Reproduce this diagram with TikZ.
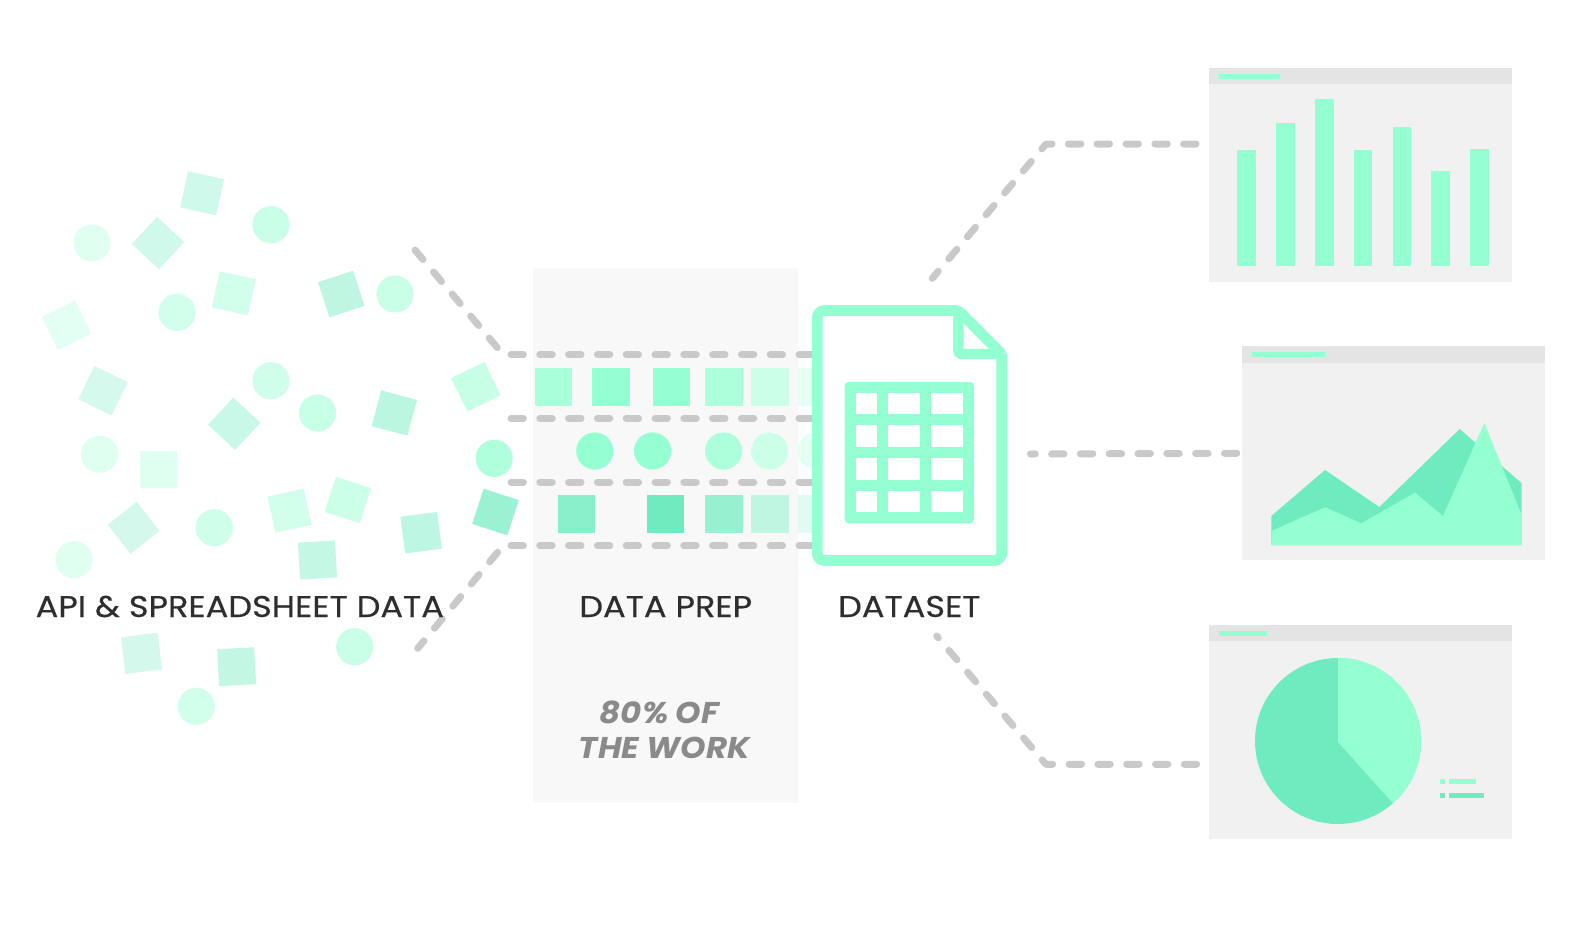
\documentclass[tikz,border=0pt]{standalone}
\usepackage{fontspec}
\setmainfont{Poppins}
\newfontfamily\labelfont[FakeStretch=1.12,FakeBold=0.35]{Poppins}
\newfontfamily\notefont[FakeStretch=1.08]{Poppins}
\usepackage{xcolor}
\usepackage{tikz}

\definecolor{mintl}{HTML}{94FFD0}
\definecolor{mintd}{HTML}{6FECBF}
\definecolor{dashgrey}{HTML}{C9C9C9}
\definecolor{prepgrey}{HTML}{F8F8F8}
\definecolor{panelgrey}{HTML}{F1F1F1}
\definecolor{headgrey}{HTML}{E4E4E4}
\definecolor{inkgrey}{HTML}{2E2E2E}
\definecolor{notegrey}{HTML}{8A8A8A}

\begin{document}
\begin{tikzpicture}[
  x=1pt,y=-1pt,
  chip/.style={rectangle,minimum size=37pt,inner sep=0pt},
  dot/.style={circle,minimum size=37.2pt,inner sep=0pt},
  tile/.style={rectangle,anchor=north west,minimum width=37.3pt,minimum height=37.3pt,inner sep=0pt},
  panel/.style={rectangle,fill=panelgrey,anchor=north west,minimum width=303.5pt,minimum height=213.6pt,inner sep=0pt},
  dashline/.style={draw=dashgrey,line width=7pt,line cap=round,line join=round,dash pattern=on 12.4pt off 16.4pt},
  label/.style={anchor=base,text=inkgrey,font=\fontsize{30}{30}\labelfont},
  note/.style={anchor=base,text=notegrey,font=\fontsize{30}{30}\notefont\bfseries\itshape}
]
\useasboundingbox (0,0) rectangle (1576,930);

\foreach \x/\y/\r/\c [count=\i] in {
  202.1/193.3/-12.5/mintd!33, 158/243/-43/mintd!32, 233.8/293.3/-12.5/mintl!42,
  341.3/294/18/mintd!45, 66.5/325.3/26/mintl!26, 103/390.7/-26/mintd!29,
  234.2/423.7/-43/mintd!38, 394.3/413/-15/mintd!48, 475.9/386.7/26/mintl!53,
  158.2/469.3/0/mintl!30, 495.5/512/-18/mintd!70, 289.6/510.7/12.5/mintl!42,
  347.8/500/-18/mintl!48, 421.1/532.7/7.5/mintd!46, 133.6/527.8/38/mintd!30,
  317.5/560/3.5/mintd!40, 141.5/653.3/7/mintd!30, 236.6/666.7/3/mintd!42}
  \node[chip,rotate=\r,fill=\c] (chip\i) at (\x,\y) {};

\foreach \x/\y/\c [count=\i] in {
  91.9/243/mintl!30, 271/224.7/mintl!50, 177/312.3/mintl!42, 395/294/mintl!50,
  271/380.7/mintl!45, 317.5/413/mintl!52, 99.5/454.3/mintl!30, 494.1/458.3/mintl!75,
  214.2/527.7/mintl!45, 74/559.7/mintl!30, 354.7/646.7/mintl!50, 196.3/706.3/mintl!42}
  \node[dot,fill=\c] (dot\i) at (\x,\y) {};

\node[rectangle,fill=prepgrey,anchor=north west,minimum width=265pt,minimum height=534.3pt,inner sep=0pt] (prep) at (532.7,268) {};

\foreach \x/\c [count=\i] in {
  534.3/mintl!80, 592/mintl, 652.4/mintl, 705/mintl!78, 751.2/mintl!48, 797.6/mintl!24}
  \node[tile,fill=\c] (toptile\i) at (\x,368) {};
\foreach \x/\c [count=\i] in {
  594.8/mintl, 652.6/mintl, 723.6/mintl!78, 769.6/mintl!48, 816/mintl!24}
  \node[dot,fill=\c] (middot\i) at (\x,451) {};
\foreach \x/\c [count=\i] in {
  557.3/mintd!82, 646.6/mintd, 705/mintd!72, 751.2/mintd!45, 797.6/mintd!20}
  \node[tile,fill=\c] (lowtile\i) at (\x,495) {};

\foreach \y [count=\i] in {354.7,418.3,482,545.7}{
  \coordinate (rowin\i) at (511,\y);
  \coordinate (rowout\i) at (822,\y);
  \draw[dashline] (rowin\i) -- (rowout\i);
}
\coordinate (feedtop) at (415,250);
\coordinate (feedlow) at (417.7,648.3);
\coordinate (feedtopend) at (497.6,348);
\coordinate (feedlowend) at (497.6,552.3);
\draw[dashline] (feedtop) -- (feedtopend);
\draw[dashline] (feedlowend) -- (feedlow);

\draw[line width=10.8pt,draw=mintl,fill=white,line join=round]
  (900,310.5) [rounded corners=3pt] -- (958.3,310.5) -- (1001.7,354)
  [rounded corners=7.5pt] -- (1001.7,560.5) -- (817.2,560.5) -- (817.2,310.5) -- cycle;
\draw[line width=10.4pt,draw=mintl,line join=round,rounded corners=3pt]
  (958.3,310.5) -- (958.3,354) -- (1001.7,354);
\fill[mintl,rounded corners=4pt] (844.6,382) rectangle (974,523.3);
\foreach \y/\h in {393/21.3,425.3/21.7,458/21.7,490.7/21.3}
  \foreach \x/\w in {855.8/21.2,887.9/32.1,931.2/31.8}
    \fill[white] (\x,\y) rectangle ++(\w,\h);

\node[panel] (barpanel) at (1208.7,67.7) {};
\fill[headgrey] (1208.7,67.7) rectangle (1512.2,84);
\fill[mintl] (1219,73.7) rectangle (1280,79);
\foreach \x/\t in {1237.3/150,1276/123.3,1315/99,1353.7/150,1392.7/127,1431.3/170.7,1470/149.3}
  \fill[mintl] (\x,\t) rectangle (\x+18.6,266);

\node[panel] (areapanel) at (1241.7,346.3) {};
\fill[headgrey] (1241.7,346.3) rectangle (1545.2,362.7);
\fill[mintl] (1252,352) rectangle (1325,357.3);
\fill[mintd] (1271.3,545) -- (1271.3,516) -- (1325,470) -- (1379.3,507) -- (1459.7,429) -- (1521.7,483.3) -- (1521.7,545) -- cycle;
\fill[mintl] (1271.3,545) -- (1271.3,531) -- (1325,507.3) -- (1361.3,523.3) -- (1415,492.7) -- (1443,516) -- (1484.3,423) -- (1521.7,515) -- (1521.7,545) -- cycle;

\node[panel] (piepanel) at (1208.7,625.3) {};
\fill[headgrey] (1208.7,625.3) rectangle (1512.2,641.3);
\fill[mintl] (1219,631) rectangle (1266.7,636);
\fill[mintd] (1338,741) circle (83);
\fill[mintl] (1338,742) -- (1338,658) arc[start angle=-90,end angle=48.6,radius=83] -- cycle;
\fill[mintl] (1440,779) rectangle (1445,784);
\fill[mintl] (1449,779) rectangle (1476,784);
\fill[mintd] (1440,793) rectangle (1445,798);
\fill[mintd] (1449,793) rectangle (1483.7,798);

\coordinate (barin) at (1196,144);
\coordinate (barbend) at (1046,144);
\coordinate (barout) at (932.3,278.3);
\coordinate (piein) at (1196.7,764.3);
\coordinate (piebend) at (1046,764.3);
\coordinate (pieout) at (936.7,636);
\coordinate (areaout) at (1030.5,454);
\draw[dashline] (barin) -- (barbend) -- (barout);
\draw[dashline] (piein) -- (piebend) -- (pieout);
\draw[dashline,shorten <=4.9pt] (areapanel.west) -- (areaout);

\node[label] (srclabel) at (239.8,617) {API \& SPREADSHEET DATA};
\node[label] (preplabel) at (665.7,617) {DATA PREP};
\node[label] (setlabel) at (909.3,617) {DATASET};
\node[note] (notea) at (659.5,723) {80\% OF};
\node[note] (noteb) at (664.5,758.5) {THE WORK};
\end{tikzpicture}
\end{document}
